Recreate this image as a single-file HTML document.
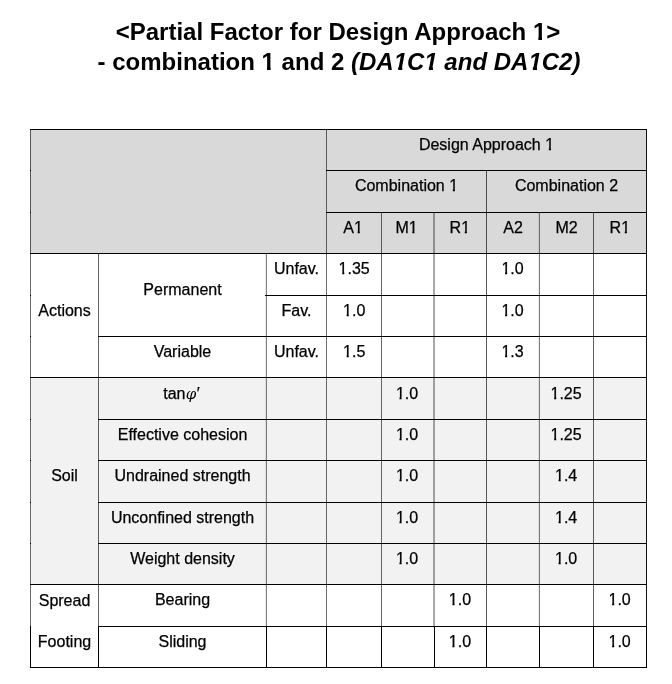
<!DOCTYPE html>
<html lang="en"><head><meta charset="utf-8"><title>Partial Factor for Design Approach 1</title>
<style>
html,body{margin:0;padding:0;background:#fff}
body{width:672px;height:684px;position:relative;overflow:hidden;font-family:"Liberation Sans",sans-serif;color:#000}
.t{position:absolute;left:0;width:672px;text-align:center;font-weight:bold;font-size:24px;line-height:28px;white-space:nowrap;margin:0}
.t1{top:18px;left:2px} .t2{top:48px;left:3px}
.r{position:absolute}
.c{position:absolute;width:200px;height:18px;text-align:center;font-size:16px;line-height:18px;white-space:nowrap;-webkit-text-stroke:0.25px #000}
.o{display:inline-block;clip-path:polygon(0 0,100% 0,100% 12px,5.75px 12px,5.75px 100%,3.6px 100%,3.6px 12px,0 12px)}
.t .o{clip-path:polygon(0 0,100% 0,100% 19px,9.1px 19px,9.1px 100%,5.4px 100%,5.4px 19px,0 19px)}
.t i .o{clip-path:polygon(0 0,100% 0,100% 19px,8.6px 19px,8.6px 100%,4.5px 100%,4.5px 19px,0 19px)}
.p{margin-left:0.5px}
.m{margin-left:0.3px;-webkit-text-stroke:0;font-family:"DejaVu Serif","Liberation Serif",serif;font-size:15px}
</style></head><body>
<div class="t t1">&lt;Partial Factor for Design Approach <span class="o">1</span>&gt;</div>
<div class="t t2">- combination <span class="o">1</span> and 2 <i>(DA<span class="o">1</span>C<span class="o">1</span> and DA<span class="o">1</span>C2)</i></div>
<div class="grid">
<div class="r" style="left:30px;top:129px;width:617px;height:125px;background:#d9d9d9"></div>
<div class="r" style="left:31px;top:378px;width:615px;height:206px;background:#f2f2f2"></div>
<div class="r" style="left:30px;top:129px;width:1px;height:497px;background:rgba(0,0,0,.59)"></div>
<div class="r" style="left:30px;top:626px;width:1px;height:42px;background:#000"></div>
<div class="r" style="left:646px;top:129px;width:1px;height:497px;background:rgba(0,0,0,.93)"></div>
<div class="r" style="left:646px;top:626px;width:1px;height:42px;background:#000"></div>
<div class="r" style="left:326px;top:129px;width:1px;height:497px;background:rgba(0,0,0,.58)"></div>
<div class="r" style="left:326px;top:626px;width:1px;height:42px;background:#000"></div>
<div class="r" style="left:486px;top:170px;width:1px;height:456px;background:rgba(0,0,0,.65)"></div>
<div class="r" style="left:486px;top:626px;width:1px;height:42px;background:#000"></div>
<div class="r" style="left:381px;top:212px;width:1px;height:414px;background:rgba(0,0,0,.59)"></div>
<div class="r" style="left:381px;top:626px;width:1px;height:42px;background:#000"></div>
<div class="r" style="left:433px;top:212px;width:2px;height:414px;background:rgba(0,0,0,.34)"></div>
<div class="r" style="left:434px;top:626px;width:1px;height:42px;background:#000"></div>
<div class="r" style="left:539px;top:212px;width:1px;height:414px;background:rgba(0,0,0,.5)"></div>
<div class="r" style="left:539px;top:626px;width:1px;height:42px;background:#000"></div>
<div class="r" style="left:593px;top:212px;width:1px;height:414px;background:rgba(0,0,0,.63)"></div>
<div class="r" style="left:593px;top:626px;width:1px;height:42px;background:#000"></div>
<div class="r" style="left:98px;top:253px;width:1px;height:373px;background:rgba(0,0,0,.62)"></div>
<div class="r" style="left:98px;top:626px;width:1px;height:42px;background:#000"></div>
<div class="r" style="left:266px;top:253px;width:1px;height:373px;background:rgba(0,0,0,.5)"></div>
<div class="r" style="left:266px;top:626px;width:1px;height:42px;background:#000"></div>
<div class="r" style="left:265px;top:254px;width:1px;height:372px;background:rgba(0,0,0,.08)"></div>
<div class="r" style="left:538px;top:213px;width:1px;height:413px;background:rgba(0,0,0,.07)"></div>
<div class="r" style="left:30px;top:129px;width:1px;height:1px;background:#000"></div>
<div class="r" style="left:30px;top:170px;width:1px;height:1px;background:#000"></div>
<div class="r" style="left:30px;top:212px;width:1px;height:1px;background:#000"></div>
<div class="r" style="left:30px;top:253px;width:1px;height:1px;background:#000"></div>
<div class="r" style="left:30px;top:295px;width:1px;height:1px;background:#000"></div>
<div class="r" style="left:30px;top:336px;width:1px;height:1px;background:#000"></div>
<div class="r" style="left:30px;top:377px;width:1px;height:1px;background:#000"></div>
<div class="r" style="left:30px;top:419px;width:1px;height:1px;background:#000"></div>
<div class="r" style="left:30px;top:460px;width:1px;height:1px;background:#000"></div>
<div class="r" style="left:30px;top:502px;width:1px;height:1px;background:#000"></div>
<div class="r" style="left:30px;top:543px;width:1px;height:1px;background:#000"></div>
<div class="r" style="left:30px;top:584px;width:1px;height:1px;background:#000"></div>
<div class="r" style="left:30px;top:626px;width:1px;height:1px;background:#000"></div>
<div class="r" style="left:30px;top:667px;width:1px;height:1px;background:#000"></div>
<div class="r" style="left:30px;top:129px;width:617px;height:1px;background:#000"></div>
<div class="r" style="left:30px;top:667px;width:617px;height:1px;background:#000"></div>
<div class="r" style="left:326px;top:170px;width:321px;height:1px;background:#000"></div>
<div class="r" style="left:326px;top:212px;width:321px;height:1px;background:#000"></div>
<div class="r" style="left:30px;top:253px;width:617px;height:1px;background:#000"></div>
<div class="r" style="left:265px;top:295px;width:382px;height:1px;background:#000"></div>
<div class="r" style="left:98px;top:336px;width:549px;height:1px;background:#000"></div>
<div class="r" style="left:30px;top:377px;width:617px;height:1px;background:#000"></div>
<div class="r" style="left:98px;top:419px;width:549px;height:1px;background:#000"></div>
<div class="r" style="left:98px;top:460px;width:549px;height:1px;background:#000"></div>
<div class="r" style="left:98px;top:502px;width:549px;height:1px;background:#000"></div>
<div class="r" style="left:98px;top:543px;width:549px;height:1px;background:#000"></div>
<div class="r" style="left:30px;top:584px;width:617px;height:1px;background:#000"></div>
<div class="r" style="left:98px;top:626px;width:549px;height:1px;background:#000"></div>
</div>
<div class="c " style="left:386.50px;top:136px">Design Approach <span class="o">1</span></div>
<div class="c " style="left:306.50px;top:177px">Combination <span class="o">1</span></div>
<div class="c " style="left:466.50px;top:177px">Combination 2</div>
<div class="c " style="left:253.17px;top:219px">A<span class="o">1</span></div>
<div class="c " style="left:306.50px;top:219px">M<span class="o">1</span></div>
<div class="c " style="left:359.83px;top:219px">R<span class="o">1</span></div>
<div class="c " style="left:413.17px;top:219px">A2</div>
<div class="c " style="left:466.50px;top:219px">M2</div>
<div class="c " style="left:519.83px;top:219px">R<span class="o">1</span></div>
<div class="c " style="left:-35.50px;top:302px">Actions</div>
<div class="c " style="left:82.50px;top:281px">Permanent</div>
<div class="c " style="left:196.50px;top:260px">Unfav.</div>
<div class="c " style="left:196.50px;top:302px">Fav.</div>
<div class="c " style="left:82.50px;top:343px">Variable</div>
<div class="c " style="left:196.50px;top:343px">Unfav.</div>
<div class="c n" style="left:254.17px;top:260px"><span class="o">1</span>.35</div>
<div class="c n" style="left:254.17px;top:302px"><span class="o">1</span>.0</div>
<div class="c n" style="left:254.17px;top:343px"><span class="o">1</span>.5</div>
<div class="c n" style="left:412.57px;top:260px"><span class="o">1</span>.0</div>
<div class="c n" style="left:412.57px;top:302px"><span class="o">1</span>.0</div>
<div class="c n" style="left:412.57px;top:343px"><span class="o">1</span>.3</div>
<div class="c " style="left:-35.50px;top:467px">Soil</div>
<div class="c " style="left:81.50px;top:385px">tan<i class="m">φ</i><span class="p">′</span></div>
<div class="c n" style="left:307.00px;top:385px"><span class="o">1</span>.0</div>
<div class="c n" style="left:466.10px;top:385px"><span class="o">1</span>.25</div>
<div class="c " style="left:82.50px;top:426px">Effective cohesion</div>
<div class="c n" style="left:307.00px;top:426px"><span class="o">1</span>.0</div>
<div class="c n" style="left:466.10px;top:426px"><span class="o">1</span>.25</div>
<div class="c " style="left:82.50px;top:467px">Undrained strength</div>
<div class="c n" style="left:307.00px;top:467px"><span class="o">1</span>.0</div>
<div class="c n" style="left:466.10px;top:467px"><span class="o">1</span>.4</div>
<div class="c " style="left:82.50px;top:509px">Unconfined strength</div>
<div class="c n" style="left:307.00px;top:509px"><span class="o">1</span>.0</div>
<div class="c n" style="left:466.10px;top:509px"><span class="o">1</span>.4</div>
<div class="c " style="left:82.50px;top:550px">Weight density</div>
<div class="c n" style="left:307.00px;top:550px"><span class="o">1</span>.0</div>
<div class="c n" style="left:466.10px;top:550px"><span class="o">1</span>.0</div>
<div class="c " style="left:-35.50px;top:592px">Spread</div>
<div class="c " style="left:-35.50px;top:633px">Footing</div>
<div class="c " style="left:82.50px;top:591px">Bearing</div>
<div class="c " style="left:82.50px;top:633px">Sliding</div>
<div class="c n" style="left:359.93px;top:591px"><span class="o">1</span>.0</div>
<div class="c n" style="left:519.63px;top:591px"><span class="o">1</span>.0</div>
<div class="c n" style="left:359.93px;top:633px"><span class="o">1</span>.0</div>
<div class="c n" style="left:519.63px;top:633px"><span class="o">1</span>.0</div>
</body></html>
